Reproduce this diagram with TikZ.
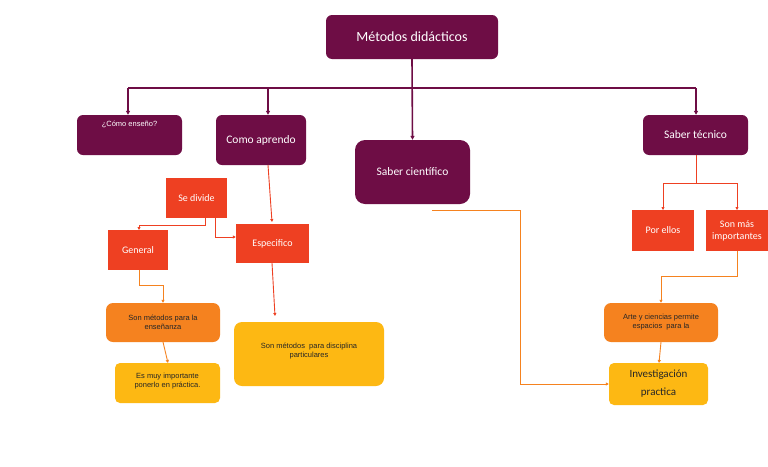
\documentclass[tikz,border=0pt]{standalone}
\usepackage{fontspec}
\setmainfont{Carlito}
\newfontfamily\arl{Liberation Sans}
\usetikzlibrary{arrows.meta}
\definecolor{pur}{HTML}{6E0D45}
\definecolor{red1}{HTML}{EE4022}
\definecolor{org}{HTML}{F5821F}
\definecolor{yel}{HTML}{FDB813}
\begin{document}
\begin{tikzpicture}[x=1pt,y=-1pt,
 box/.style={draw=none,inner sep=0pt,align=center,text=white},
 pbox/.style={box,fill=pur,rounded corners=6pt},
 rbox/.style={box,fill=red1},
 obox/.style={box,fill=org,rounded corners=7pt,text=black!85,font=\arl\fontsize{7.5}{9}\selectfont},
 ybox/.style={box,fill=yel,rounded corners=5pt,text=black!85,font=\arl\fontsize{7.5}{9}\selectfont},
 pa/.style={draw=pur,line width=1.6pt,-{Triangle[length=4pt,width=4pt]}},
 ra/.style={draw=red1,line width=0.9pt,-{Triangle[length=3pt,width=3pt]}},
 oa/.style={draw=org,line width=0.9pt,-{Triangle[length=3pt,width=3pt]}}]
\useasboundingbox[fill=white] (0,0) rectangle (768,466);
\newcommand\bx[7]{\node[#1,minimum width=#4-#2,minimum height=#5-#3] (#6) at ({(#2+#4)/2},{(#3+#5)/2}) {#7};}
\bx{pbox,font=\fontsize{14}{16}\selectfont}{326}{15}{498}{59}{title}{Métodos didácticos}
\bx{pbox,font=\arl\fontsize{7.5}{9}\selectfont,text depth=22pt}{77}{115}{182}{155}{ens}{¿Cómo enseño?}
\bx{pbox,font=\fontsize{11.5}{13}\selectfont}{216}{115}{306}{165}{apr}{Como aprendo}
\bx{pbox,font=\fontsize{11.5}{13}\selectfont,rounded corners=10pt}{355}{140}{470}{204}{cie}{Saber científico}
\bx{pbox,font=\fontsize{11.5}{13}\selectfont}{643}{115}{748}{155}{tec}{Saber técnico}
\bx{rbox,font=\fontsize{10}{12}\selectfont}{166}{178}{227}{218}{div}{Se divide}
\bx{rbox,font=\fontsize{10}{12}\selectfont}{108}{230}{168}{270}{gen}{General}
\bx{rbox,font=\fontsize{10}{12}\selectfont}{236}{224}{309}{263}{esp}{Especifico}
\bx{obox}{106}{303}{220}{342}{ensz}{Son métodos para la\\enseñanza}
\bx{ybox,text depth=6pt}{115}{363}{220}{403}{muy}{Es muy importante\\ponerlo en práctica.}
\bx{ybox,rounded corners=8pt,text depth=8pt}{234}{322}{384}{386}{dis}{Son métodos\ \ para disciplina\\particulares}
\bx{rbox,font=\fontsize{10}{12}\selectfont}{632}{210}{694}{251}{por}{Por ellos}
\bx{rbox,font=\fontsize{10}{12}\selectfont}{706}{210}{768}{251}{mas}{Son más\\importantes}
\bx{obox}{604}{303}{718}{342}{arte}{Arte y ciencias permite\\espacios\ \ para la}
\bx{ybox,font=\fontsize{11}{18}\selectfont}{609}{363}{708}{405}{inv}{Investigación\\practica}
% purple trunk
\draw[pa] (title.south) -- (cie.north);
\draw[draw=pur,line width=1.6pt] (128,88) -- (696,88);
\draw[pa] (128,88) -- (ens.north-|128,0);
\draw[pa] (268,88) -- (apr.north-|268,0);
\draw[pa] (696,88) -- (tec.north-|696,0);
% red
\draw[ra] (268,165) -- (272,222);
\draw[ra] (205,218) |- (139,225) -- (139,230);
\draw[ra] (215,218) |- (esp.west|-0,237);
\draw[ra] (696,155) |- (663,183) -- (663,210);
\draw[ra] (696,183) -| (737,210);
\draw[ra] (272,263) -- (275,316);
% orange
\draw[oa] (139,270) |- (163,285) -- (ensz.north-|163,0);
\draw[oa] (163,342) -- (168,363);
\draw[oa] (737,251) |- (661,276) -- (arte.north-|661,0);
\draw[oa] (661,342) -- (659,363);
\coordinate (cs) at (432,210);
\draw[oa] (cs) -- (520,210) |- (inv.west|-0,384);
\end{tikzpicture}
\end{document}
